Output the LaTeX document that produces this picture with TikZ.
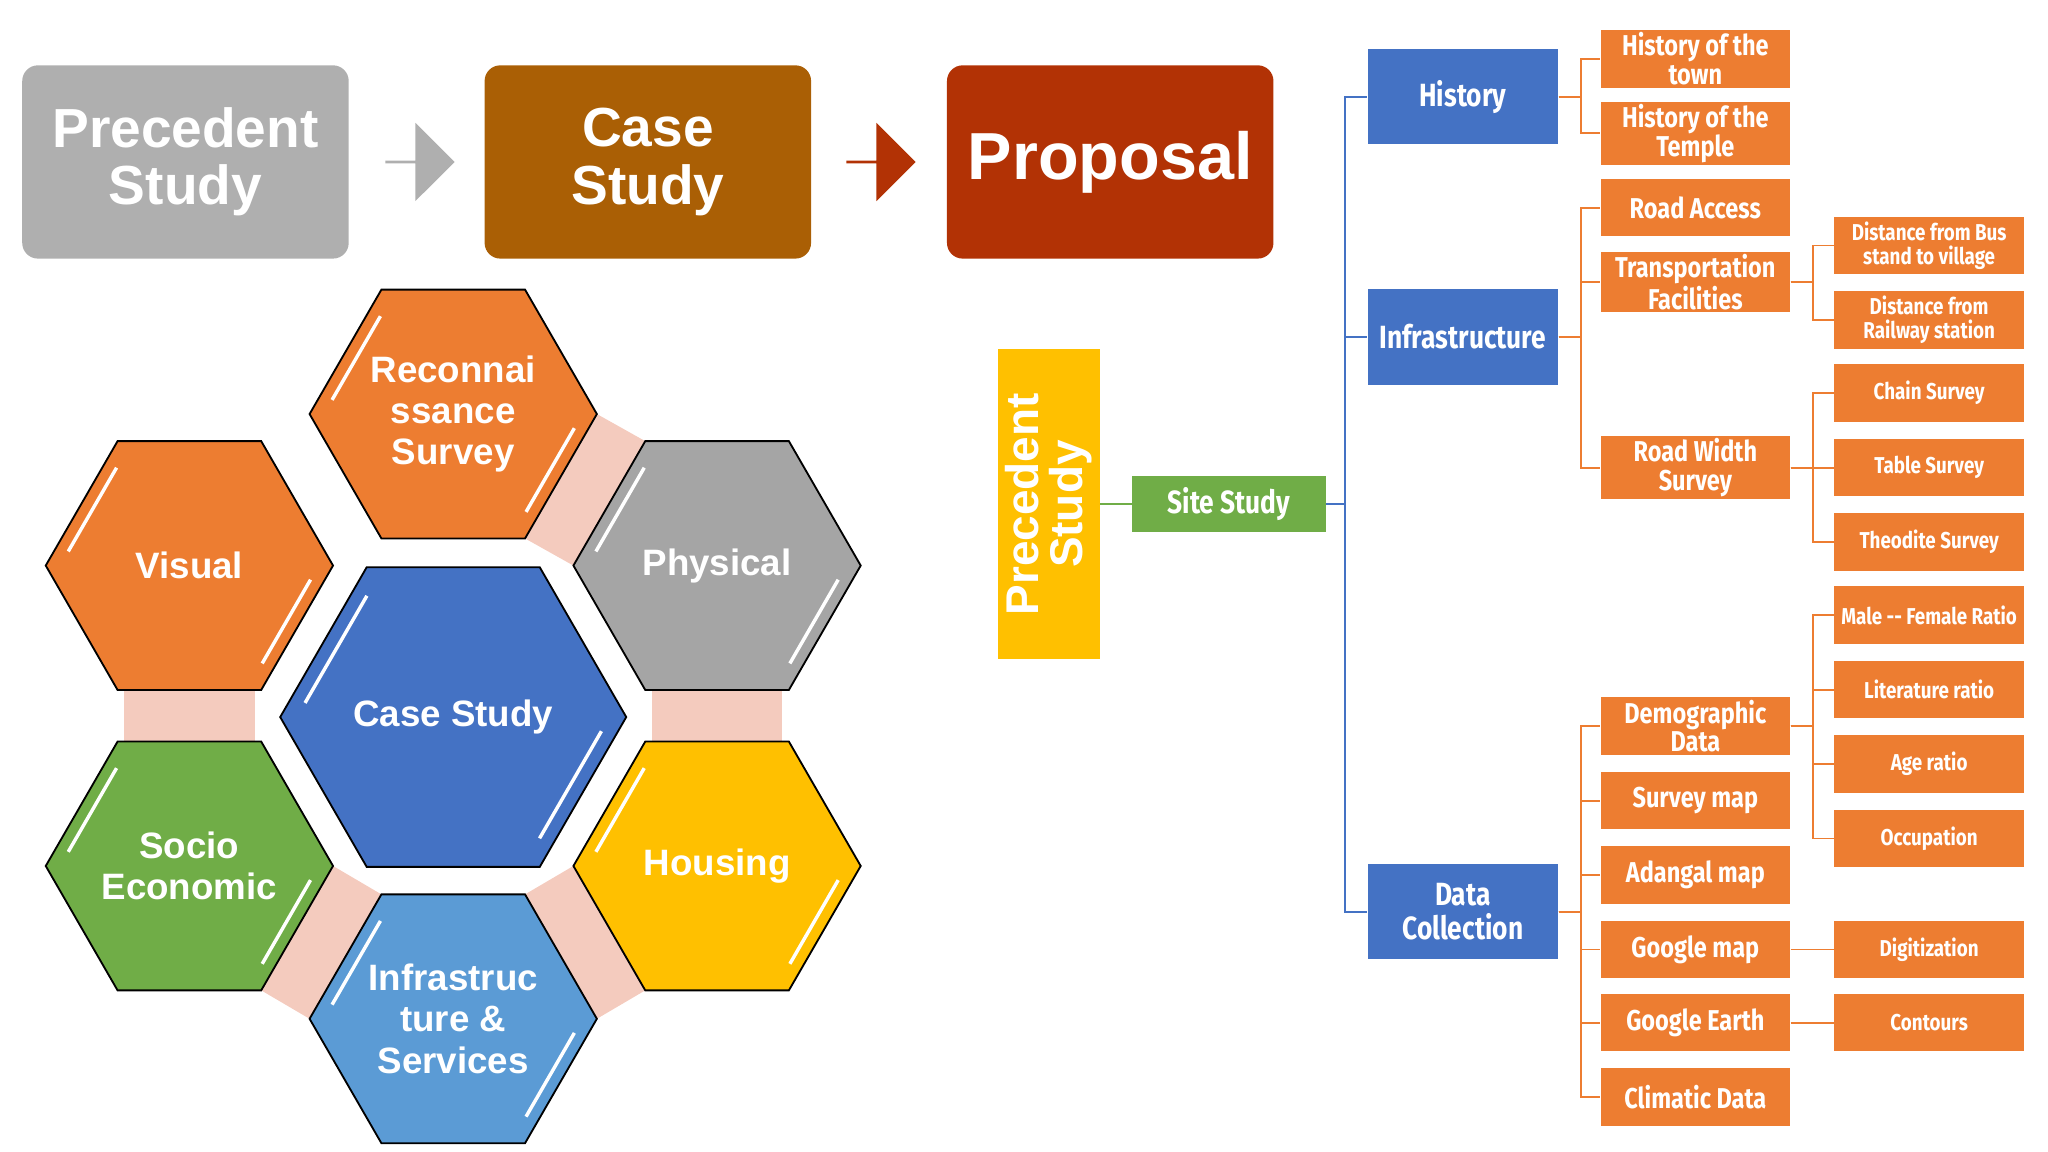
\documentclass[tikz,border=0pt]{standalone}
\usepackage{fontspec}
\setmainfont{Liberation Sans}
\newfontfamily\cond{Fira Sans}[FakeStretch=0.82]
\usetikzlibrary{shapes.geometric,shapes.arrows,calc}
\definecolor{cOr}{HTML}{ED7D31}
\definecolor{cBl}{HTML}{4472C4}
\definecolor{cLb}{HTML}{5B9BD5}
\definecolor{cGr}{HTML}{70AD47}
\definecolor{cYe}{HTML}{FFC000}
\definecolor{cGy}{HTML}{A5A5A5}
\definecolor{cPk}{HTML}{F4CBBE}
\definecolor{cTop}{HTML}{AFAFAF}
\definecolor{cBr}{HTML}{AA5F05}
\definecolor{cRd}{HTML}{B23205}
\tikzset{
  top/.style={rounded corners=0.24cm, minimum width=5cm, minimum height=2.96cm,
    text=white, font=\bfseries\fontsize{24}{25}\selectfont, align=center},
  hex/.style={regular polygon, regular polygon sides=6, draw=black, thick,
    inner sep=0pt, minimum size=4.4cm, text=white, align=center,
    font=\bfseries\fontsize{16}{18}\selectfont},
  link/.style={fill=cPk},
  hi/.style={white, line width=1.5pt, shorten >=0.25cm, shorten <=0.25cm},
  blu/.style={fill=cBl, minimum width=2.92cm, minimum height=1.46cm, text=white,
    font=\cond\bfseries\fontsize{14}{15}\selectfont, align=center},
  org/.style={fill=cOr, minimum width=2.9cm, minimum height=0.88cm, inner sep=1pt, text=white,
    font=\cond\bfseries\fontsize{12.5}{12.5}\selectfont, align=center},
  org2/.style={org, font=\cond\bfseries\fontsize{10}{10.5}\selectfont},
  bl/.style={cBl, thick},
  ol/.style={cOr, thick}
}
\newcommand{\hexhi}[2]{%
  \path ($(#1)+(120:0.9*#2)$) coordinate (h1) ($(#1)+(180:0.9*#2)$) coordinate (h2)
        ($(#1)+(0:0.9*#2)$) coordinate (h3) ($(#1)+(300:0.9*#2)$) coordinate (h4);
  \draw[hi] (h1) -- (h2); \draw[hi] (h3) -- (h4);}
\begin{document}
\begin{tikzpicture}[x=0.02cm,y=0.02cm]
\useasboundingbox (0,0) rectangle (1568,-882);
% top row
\node[top, fill=cTop] (ps) at (142,-124) {Precedent\\Study};
\node[single arrow, fill=cTop, minimum width=1.2cm, minimum height=1.06cm,
  single arrow head extend=0.2cm, inner sep=0pt] (a1) at (321,-124) {};
\node[top, fill=cBr] (cs) at (496,-124) {Case\\Study};
\node[single arrow, fill=cRd, minimum width=1.2cm, minimum height=1.06cm,
  single arrow head extend=0.2cm, inner sep=0pt] (a2) at (674,-124) {};
\node[top, fill=cRd, font=\bfseries\fontsize{29}{30}\selectfont] (pr) at (850,-124) {Proposal};
% hexagon cluster
\coordinate (cv) at (145,-433); \coordinate (cr) at (347,-317); \coordinate (cp) at (549,-433);
\coordinate (cc) at (347,-549); \coordinate (cso) at (145,-663); \coordinate (ch) at (549,-663);
\coordinate (ci) at (347,-780);
\fill[link] ($(cr)+(0:110)$) -- ($(cr)+(300:110)$) -- ($(cp)+(180:110)$) -- ($(cp)+(120:110)$) -- cycle;
\fill[link] ($(cv)+(240:100)$) -- ($(cv)+(300:100)$) -- ($(cso)+(60:100)$) -- ($(cso)+(120:100)$) -- cycle;
\fill[link] ($(cp)+(240:100)$) -- ($(cp)+(300:100)$) -- ($(ch)+(60:100)$) -- ($(ch)+(120:100)$) -- cycle;
\fill[link] ($(cso)+(0:110)$) -- ($(cso)+(300:110)$) -- ($(ci)+(180:110)$) -- ($(ci)+(120:110)$) -- cycle;
\fill[link] ($(ci)+(60:110)$) -- ($(ci)+(0:110)$) -- ($(ch)+(240:110)$) -- ($(ch)+(180:110)$) -- cycle;
\node[hex, fill=cOr] (hv) at (cv) {Visual};
\node[hex, fill=cOr] (hr) at (cr) {Reconnai\\ssance\\Survey};
\node[hex, fill=cGy] (hp) at (cp) {Physical};
\node[hex, fill=cBl, minimum size=5.3cm] (hc) at (cc) {Case Study};
\node[hex, fill=cGr] (hs) at (cso) {Socio\\Economic};
\node[hex, fill=cYe] (hh) at (ch) {Housing};
\node[hex, fill=cLb] (hi) at (ci) {Infrastruc\\ture \&\\Services};
\hexhi{cv}{110}\hexhi{cr}{110}\hexhi{cp}{110}\hexhi{cc}{133}\hexhi{cso}{110}\hexhi{ch}{110}\hexhi{ci}{110}
% tree
\node[fill=cYe, minimum width=4.74cm, minimum height=1.3cm, rotate=90, text=white,
  font=\bfseries\fontsize{20}{19}\selectfont, align=center] (pv) at (803,-386) {Precedent\\Study};
\node[fill=cGr, minimum width=2.96cm, minimum height=0.86cm, text=white,
  font=\cond\bfseries\fontsize{14}{15}\selectfont] (ss) at (941,-386) {Site Study};
\draw[cGr, thick] (pv.south) -- (ss.west);
\node[blu] (hist) at (1120,-74) {History};
\node[blu] (infra) at (1120,-258) {Infrastructure};
\node[blu] (dc) at (1120,-698) {Data\\Collection};
\coordinate (tr) at (1030,-386);
\draw[bl] (ss.east) -- (tr);
\draw[bl] (tr) |- (hist.west);
\draw[bl] (tr) |- (infra.west);
\draw[bl] (tr) |- (dc.west);
% column 1
\node[org] (ht) at (1298,-45) {History of the\\town};
\node[org] (htp) at (1298,-102) {History of the\\Temple};
\node[org] (ra) at (1298,-159) {Road Access};
\node[org] (tf) at (1298,-216) {Transportation\\Facilities};
\node[org] (rw) at (1298,-358) {Road Width\\Survey};
\node[org] (dd) at (1298,-556) {Demographic\\Data};
\node[org] (sm) at (1298,-613) {Survey map};
\node[org] (am) at (1298,-670) {Adangal map};
\node[org] (gm) at (1298,-727) {Google map};
\node[org] (ge) at (1298,-783) {Google Earth};
\node[org] (cd) at (1298,-840) {Climatic Data};
\foreach \c in {ht,htp} \draw[ol] (hist.east) -- ++(17,0) |- (\c.west);
\foreach \c in {ra,tf,rw} \draw[ol] (infra.east) -- ++(17,0) |- (\c.west);
\foreach \c in {dd,sm,am,gm,ge,cd} \draw[ol] (dc.east) -- ++(17,0) |- (\c.west);
% column 2
\node[org2] (bus) at (1477,-188) {Distance from Bus\\stand to village};
\node[org2] (rail) at (1477,-245) {Distance from\\Railway station};
\node[org2] (chain) at (1477,-301) {Chain Survey};
\node[org2] (tab) at (1477,-358) {Table Survey};
\node[org2] (theo) at (1477,-415) {Theodite Survey};
\node[org2] (mf) at (1477,-471) {Male -- Female Ratio};
\node[org2] (lit) at (1477,-528) {Literature ratio};
\node[org2] (age) at (1477,-585) {Age ratio};
\node[org2] (occ) at (1477,-642) {Occupation};
\node[org2] (dig) at (1477,-727) {Digitization};
\node[org2] (con) at (1477,-783) {Contours};
\foreach \c in {bus,rail} \draw[ol] (tf.east) -- ++(17,0) |- (\c.west);
\foreach \c in {chain,tab,theo} \draw[ol] (rw.east) -- ++(17,0) |- (\c.west);
\foreach \c in {mf,lit,age,occ} \draw[ol] (dd.east) -- ++(17,0) |- (\c.west);
\draw[ol] (gm.east) -- (dig.west);
\draw[ol] (ge.east) -- (con.west);
\end{tikzpicture}
\end{document}
